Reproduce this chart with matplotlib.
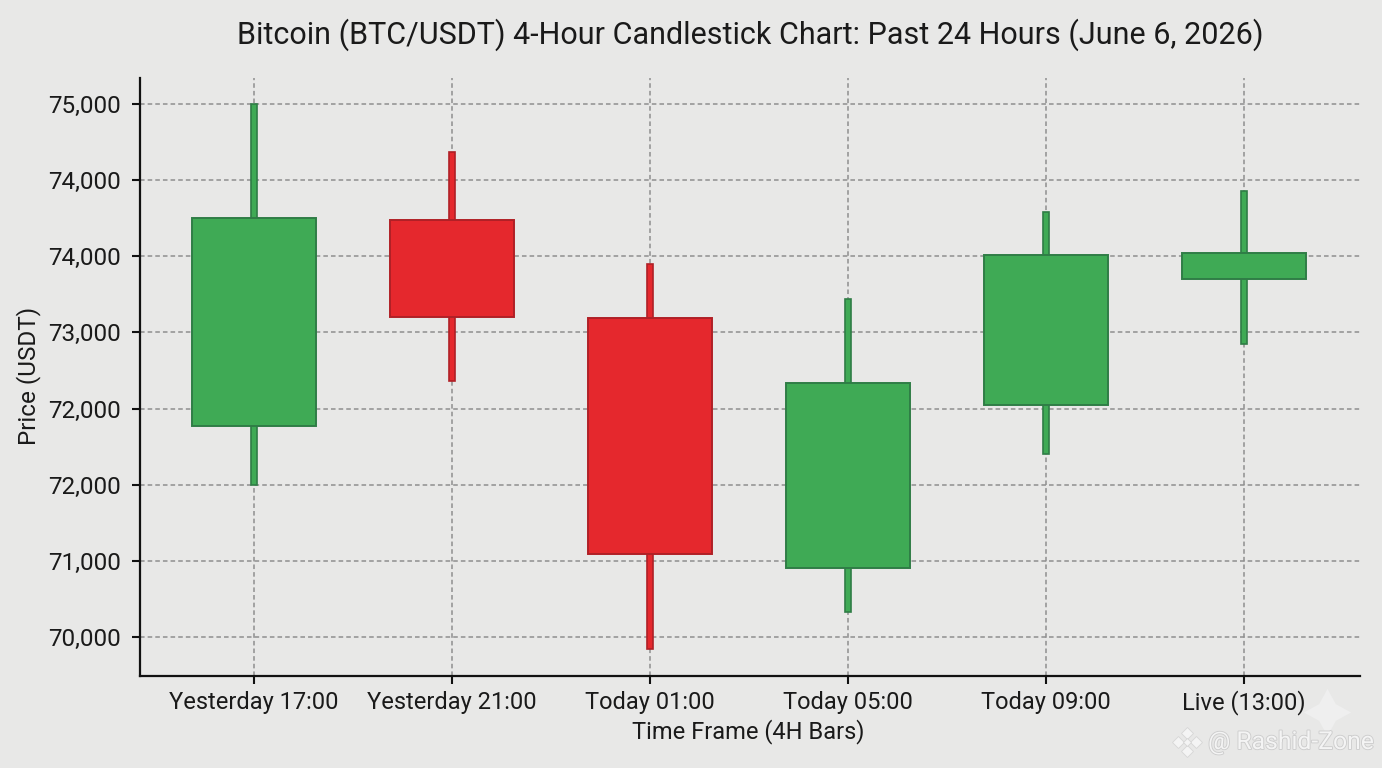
import matplotlib
matplotlib.use("Agg")
import matplotlib.pyplot as plt
import matplotlib.patheffects as pe
from matplotlib.lines import Line2D

# Tick labels as printed on the chart (two of them repeat), one per gridline
price_ticks = [70000, 71000, 72000, 73000, 74000, 75000, 76000, 77000]
price_labels = ['70,000', '71,000', '72,000', '72,000', '73,000', '74,000', '74,000', '75,000']

times = ['Yesterday 17:00', 'Yesterday 21:00', 'Today 01:00', 'Today 05:00', 'Today 09:00', 'Live (13:00)']

# Values are on the evenly spaced gridline scale above
body_low = [72770, 74200, 71090, 70910, 73050, 74700]
body_high = [75500, 75480, 74190, 73340, 75020, 75040]
wick_low = [72000, 73360, 69840, 70330, 72400, 73850]
wick_high = [77000, 76370, 74900, 74440, 75580, 75860]
direction = ['up', 'down', 'down', 'up', 'up', 'up']

BG = '#e8e8e7'
fills = {'up': '#3faa55', 'down': '#e5282d'}
edges = {'up': '#2f7d46', 'down': '#b02026'}

plt.rcParams['font.family'] = ['Roboto', 'DejaVu Sans']

fig = plt.figure(figsize=(13.82, 7.68), dpi=100, facecolor=BG)
ax = fig.add_axes([140 / 1382, 1 - 676 / 768, 1220 / 1382, 598 / 768], facecolor=BG)

xs = list(range(len(times)))
for x, bl, bh, wl, wh, d in zip(xs, body_low, body_high, wick_low, wick_high, direction):
    # wick
    ax.bar(x, wh - wl, bottom=wl, width=0.027, color=fills[d], edgecolor=edges[d],
           linewidth=1.2, zorder=3)
    # body
    ax.bar(x, bh - bl, bottom=bl, width=0.63, color=fills[d], edgecolor=edges[d],
           linewidth=1.4, zorder=4)

ax.set_xlim(-0.576, 5.586)
ax.set_ylim(69488, 77342)

ax.set_xticks(xs)
ax.set_xticklabels(times)
ax.set_yticks(price_ticks)
ax.set_yticklabels(price_labels)
ax.tick_params(axis='both', length=6, width=1.5, color='#111111', labelcolor='#1a1a1a')
ax.tick_params(axis='y', labelsize=17.5, pad=8)
ax.tick_params(axis='x', labelsize=17, pad=18)
# baseline alignment so the brackets in the last label don't push it down
for label in ax.get_xticklabels():
    label.set_va('baseline')

ax.grid(True, linestyle='--', color='#8f8f8f', linewidth=1.1, dashes=(3, 2), zorder=1)
ax.set_axisbelow(True)

for side in ['top', 'right']:
    ax.spines[side].set_visible(False)
for side in ['left', 'bottom']:
    ax.spines[side].set_linewidth(1.6)
    ax.spines[side].set_color('#111111')

fig.text(750 / 1382, 1 - 35 / 768, 'Bitcoin (BTC/USDT) 4-Hour Candlestick Chart: Past 24 Hours (June 6, 2026)',
         ha='center', va='center', fontsize=22, color='#1a1a1a')
fig.text(748 / 1382, 1 - 732 / 768, 'Time Frame (4H Bars)', ha='center', va='center', fontsize=17, color='#1a1a1a')
fig.text(29 / 1382, 1 - 376 / 768, 'Price (USDT)', ha='center', va='center', rotation=90, fontsize=17.5, color='#1a1a1a')

# faint watermark, bottom right
fig.text(1291 / 1382, 1 - 742 / 768, '@ Rashid-Zone', ha='center', va='center', fontsize=17.8, color='#f4f4f4',
         path_effects=[pe.withStroke(linewidth=1.3, foreground='#cdcdcd')])
for dx, dy, ms in [(0, -9, 6), (0, 9, 6), (-9, 0, 6), (9, 0, 6), (0, 0, 4)]:
    fig.add_artist(Line2D([(1187 + dx) / 1382], [1 - (742 + dy) / 768], transform=fig.transFigure,
                          marker='D', markersize=ms, color='#f4f4f4', markeredgecolor='#d6d6d6',
                          markeredgewidth=0.6, linestyle='none'))
fig.add_artist(Line2D([1327 / 1382], [1 - 712 / 768], transform=fig.transFigure, marker=(4, 1, 0),
                      markersize=34, color='#efefef', markeredgecolor='none', linestyle='none'))

fig.savefig('out.png', dpi=100, facecolor=BG)
